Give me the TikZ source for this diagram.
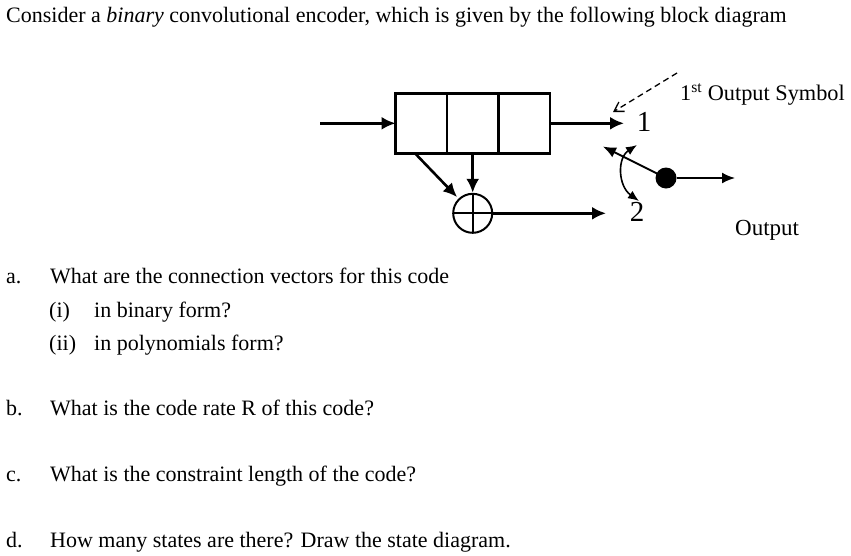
\documentclass[tikz,border=0pt]{standalone}
\usepackage{fontspec}
\setmainfont{Liberation Serif}
\usetikzlibrary{arrows.meta}
\begin{document}
\begin{tikzpicture}[x=1pt,y=-1pt,
  txt/.style={anchor=base west,inner sep=0pt,font=\fontsize{22}{26}\selectfont},
  dtxt/.style={anchor=base west,inner sep=0pt,font=\fontsize{22.3}{26}\selectfont},
  reg/.style={draw,line width=2.7pt,minimum width=51.5pt,minimum height=60pt,inner sep=0pt,outer sep=0pt},
  arr/.style={line width=2.6pt,-{Latex[length=14pt,width=13pt]}},
  thinarr/.style={line width=1.9pt,-{Latex[length=13pt,width=11pt]}},
  digit/.style={inner sep=0pt,font=\fontsize{29}{30}\selectfont}]
\useasboundingbox (0,0) rectangle (851,555);
% texts
\node[txt] (t0) at (6,22) {Consider a \emph{binary} convolutional encoder, which is given by the following block diagram};
\node[txt] (la) at (6,283) {a.};
\node[txt] (qa) at (50,283) {What are the connection vectors for this code};
\node[txt] (li) at (49,317) {(i)};
\node[txt] (qi) at (94,317) {in binary form?};
\node[txt] (lii) at (49,350) {(ii)};
\node[txt] (qii) at (94,350) {in polynomials form?};
\node[txt] (lb) at (6,415) {b.};
\node[txt] (qb) at (50,415) {What is the code rate R of this code?};
\node[txt] (lc) at (6,481) {c.};
\node[txt] (qc) at (50,481) {What is the constraint length of the code?};
\node[txt] (ld) at (6,547) {d.};
\node[txt] (qd) at (50,547) {How many states are there? Draw the state diagram.};
% encoder
\node[reg] (r1) at (421.3,123.3) {};
\node[reg] (r2) at (472.7,123.3) {};
\node[reg] (r3) at (524.3,123.3) {};
\node[draw,circle,line width=2pt,minimum size=39pt,inner sep=0pt,
  path picture={\draw[line width=2pt] (path picture bounding box.north) -- (path picture bounding box.south)
     (path picture bounding box.west) -- (path picture bounding box.east);}] (xor) at (472.7,213.3) {};
\coordinate (in) at (320,123.3);
\coordinate (o1) at (624,123.3);
\coordinate (o2) at (606,213.3);
\coordinate (d1) at (415,153.3);
\draw[arr] (in) -- (r1.west);
\draw[arr] (r3.east) -- (o1);
\draw[arr,shorten >=2pt] (d1) -- (xor);
\draw[arr] (r2.south) -- (xor.north);
\draw[arr] (xor.east) -- (o2);
\node[digit] (n1) at (644,122) {1};
\node[digit] (n2) at (637,212) {2};
% switch
\node[circle,fill,minimum size=21pt,inner sep=0pt] (dot) at (666,178) {};
\coordinate (outend) at (735,178);
\coordinate (sw) at (603,146.5);
\draw[thinarr] (dot) -- (outend);
\draw[thinarr] (dot.center) -- (sw);
\coordinate (ca) at (637,145);
\coordinate (cb) at (639,201);
\draw[line width=1.6pt,{Latex[length=11pt,width=9pt]}-{Latex[length=11pt,width=9pt]}] (ca) .. controls (617,158) and (618,186) .. (cb);
% labels
\coordinate (ds) at (677,73);
\coordinate (de) at (613,112);
\draw[line width=1.3pt,dash pattern=on 6pt off 4pt,-{Straight Barb[length=9pt,width=11pt]}] (ds) -- (de);
\node[dtxt] (sym) at (680,100) {1\textsuperscript{st} Output Symbol};
\node[dtxt,font=\fontsize{23}{26}\selectfont] (out) at (735,235) {Output};
\end{tikzpicture}
\end{document}
